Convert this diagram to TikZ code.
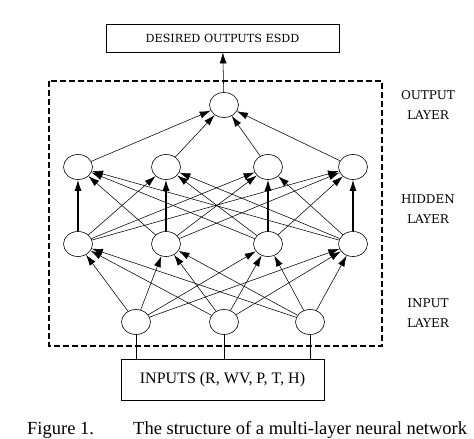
\documentclass[tikz,border=0pt]{standalone}
\usepackage{fontspec}
\setmainfont{Liberation Serif}
\newfontfamily\lblfont{DejaVu Serif}
\usetikzlibrary{shapes.geometric,arrows.meta}
\begin{document}
\begin{tikzpicture}[x=1pt,y=-1pt,
  neuron/.style={draw, ellipse, minimum width=29pt, minimum height=25pt, inner sep=0pt, line width=0.6pt},
  conn/.style={-{Latex[length=11pt,width=7pt]}, line width=0.55pt},
  vconn/.style={-{Latex[length=11pt,width=7pt]}, line width=1.1pt},
  plain/.style={line width=0.9pt},
  boxnode/.style={draw, line width=0.8pt, inner sep=0pt},
  lbl/.style={font=\lblfont\fontsize{12}{20}\selectfont, align=center},
  capt/.style={font=\fontsize{18.5}{22}\selectfont, anchor=base west, inner sep=0pt}]
\useasboundingbox (0,0) rectangle (474,439);
% dashed frame
\draw[line width=1.2pt, dash pattern=on 6pt off 3pt] (49,81) rectangle (382,346);
% boxes
\node[boxnode, minimum width=233pt, minimum height=28pt, font=\lblfont\fontsize{11.2}{12}\selectfont] (top) at (222.5,38) {DESIRED OUTPUTS ESDD};
\node[boxnode, minimum width=203pt, minimum height=41pt, font=\fontsize{16}{18}\selectfont] (inbox) at (222.5,379.5) {INPUTS (R, WV, P, T, H)};
% neurons
\node[neuron] (o) at (224,105) {};
\node[neuron] (u1) at (78,167) {};
\node[neuron] (u2) at (166,167) {};
\node[neuron] (u3) at (268,167) {};
\node[neuron] (u4) at (353,167) {};
\node[neuron] (m1) at (78,244) {};
\node[neuron] (m2) at (166,244) {};
\node[neuron] (m3) at (268,244) {};
\node[neuron] (m4) at (353,244) {};
\node[neuron] (i1) at (136,322) {};
\node[neuron] (i2) at (224,322) {};
\node[neuron] (i3) at (310,322) {};
% connectors
\draw[conn] (o) -- (top);
\foreach \u in {1,...,4} {\draw[conn] (u\u) -- (o);}
\foreach \m in {1,...,4} {
  \foreach \u in {1,...,4} {
    \ifnum\m=\u
      \draw[vconn] (m\m) -- (u\u);
    \else
      \draw[conn] (m\m) -- (u\u);
    \fi
  }
}
\foreach \i in {1,2,3} {
  \foreach \m in {1,...,4} {\draw[conn] (i\i) -- (m\m);}
  \draw[plain] (i\i |- inbox.north) -- (i\i.south);
}
% layer labels
\node[lbl] (lo) at (428,105) {OUTPUT\\LAYER};
\node[lbl] (lh) at (428,209) {HIDDEN\\LAYER};
\node[lbl] (li) at (428,313) {INPUT\\LAYER};
% caption
\node[capt] (c1) at (27,434) {Figure 1.};
\node[capt] (c2) at (133,434) {The structure of a multi-layer neural network};
\end{tikzpicture}
\end{document}
